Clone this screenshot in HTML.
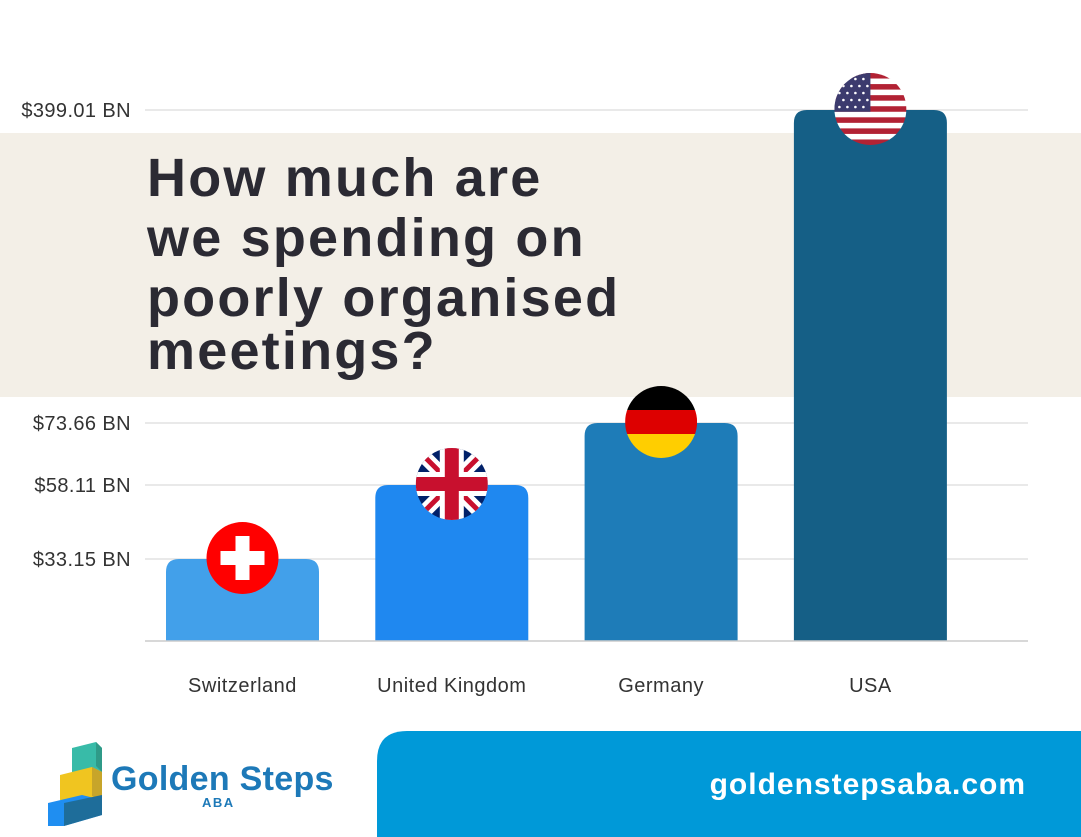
<!DOCTYPE html>
<html><head><meta charset="utf-8"><style>
body{margin:0;background:#fff}
svg{display:block}
text{font-family:"Liberation Sans",sans-serif}
</style></head><body>
<svg id="chart" width="1081" height="837" viewBox="0 0 1081 837">
<defs>
<clipPath id="c0"><circle cx="0" cy="0" r="36"/></clipPath>
</defs>
<rect x="0" y="133" width="1081" height="264" fill="#f3efe7"/>
<g id="grid"></g>
<g id="bars"></g>
<g id="flags"></g>
<g font-weight="bold" font-size="54" fill="#2b2a33" letter-spacing="2.2">
<text x="147" y="196">How much are</text>
<text x="147" y="256">we spending on</text>
<text x="147" y="316">poorly organised</text>
<text x="147" y="369">meetings?</text>
</g>
<line x1="145" y1="641" x2="1028" y2="641" stroke="#ccc" stroke-width="1.5"/>
<g id="xlabels"></g>
<g>
<polygon points="72,748 96,742 102,748 102,772 72,772" fill="#38bba8"/>
<polygon points="96,742 102,748 102,772 96,766" fill="#2f9a88"/>
<polygon points="60,775 92,767 102,772 102,800 60,800" fill="#f0c520"/>
<polygon points="92,767 102,772 102,800 92,796" fill="#c7a52a"/>
<polygon points="48,803 82,795 102,800 102,815 64,826 48,826" fill="#1f8ef1"/>
<polygon points="64,803 102,795 102,815 64,826" fill="#1e6d9a"/>
<text x="111" y="790" font-size="34" font-weight="bold" fill="#1d79b8" letter-spacing="0.3">Golden Steps</text>
<text x="202" y="807" font-size="13" font-weight="bold" fill="#1d79b8" letter-spacing="1.5">ABA</text>
</g>
<path d="M377,837 V761 Q377,731 407,731 H1081 V837 Z" fill="#0099d8"/>
<text x="1026" y="794" text-anchor="end" font-size="30" font-weight="bold" fill="#fff" letter-spacing="1">goldenstepsaba.com</text>
</svg>
<script>
const categories = ["Switzerland","United Kingdom","Germany","USA"];
const values = [33.15,58.11,73.66,399.01];
const tickValues = [33.15,58.11,73.66,399.01];
const tickLabels = ["$33.15 BN","$58.11 BN","$73.66 BN","$399.01 BN"];
const colors = ["#42a0ea","#1f88f0","#1e7cb8","#155f86"];

const NS="http://www.w3.org/2000/svg";
const dom=[0,33.15,58.11,73.66,399.01], rng=[641,559,485,423,110];
function y(v){
  for(let i=1;i<dom.length;i++){ if(v<=dom[i]||i===dom.length-1){const t=(v-dom[i-1])/(dom[i]-dom[i-1]);return rng[i-1]+t*(rng[i]-rng[i-1]);} }
}
function x(i){return 166+i*209.3;}
const bw=153;
function mk(tag,attrs,parent){const e=document.createElementNS(NS,tag);for(const k in attrs)e.setAttribute(k,attrs[k]);parent.appendChild(e);return e;}
const grid=document.getElementById('grid');
tickValues.forEach((v,i)=>{
  const l=mk('line',{x1:145,x2:1028,y1:y(v),y2:y(v),stroke:'#dcdcdc','stroke-width':1.2},grid);
  
  
  const t=mk('text',{x:131,y:y(v)+7,'text-anchor':'end','font-size':20,fill:'#333','letter-spacing':0.4},grid);
  t.textContent=tickLabels[i];
  
  
});
const bars=document.getElementById('bars'), flags=document.getElementById('flags'), xl=document.getElementById('xlabels');
function flag(i,cx,cy){
  const g=mk('g',{transform:`translate(${cx},${cy})`},flags);
  
  
  const c=mk('g',{'clip-path':'url(#c0)'},g);
  if(i===0){mk('rect',{x:-36,y:-36,width:72,height:72,fill:'#ff0000'},c);mk('rect',{x:-7,y:-22,width:14,height:44,fill:'#fff'},c);mk('rect',{x:-22,y:-7,width:44,height:14,fill:'#fff'},c);}
  if(i===1){mk('rect',{x:-36,y:-36,width:72,height:72,fill:'#012169'},c);
    mk('path',{d:'M-36,-36L36,36M36,-36L-36,36',stroke:'#fff','stroke-width':14},c);
    mk('path',{d:'M-36,-36L36,36M36,-36L-36,36',stroke:'#c8102e','stroke-width':5},c);
    mk('rect',{x:-12,y:-36,width:24,height:72,fill:'#fff'},c);mk('rect',{x:-36,y:-12,width:72,height:24,fill:'#fff'},c);
    mk('rect',{x:-7,y:-36,width:14,height:72,fill:'#c8102e'},c);mk('rect',{x:-36,y:-7,width:72,height:14,fill:'#c8102e'},c);}
  if(i===2){mk('rect',{x:-36,y:-36,width:72,height:24,fill:'#000'},c);mk('rect',{x:-36,y:-12,width:72,height:24,fill:'#dd0000'},c);mk('rect',{x:-36,y:12,width:72,height:24,fill:'#ffce00'},c);}
  if(i===3){for(let s=0;s<13;s++)mk('rect',{x:-36,y:-36+s*72/13,width:72,height:72/13+0.3,fill:s%2?'#fff':'#b22234'},c);
    mk('rect',{x:-36,y:-36,width:36,height:72*7/13,fill:'#3c3b6e'},c);
    for(let r=0;r<5;r++)for(let k=0;k<4;k++)mk('circle',{cx:-31+k*8+(r%2)*4,cy:-30+r*7,r:1.3,fill:'#fff'},c);}
}
values.forEach((v,i)=>{
  const x0=x(i), yt=y(v), r=13;
  const p=mk('path',{d:`M${x0},641V${yt+r}Q${x0},${yt} ${x0+r},${yt}H${x0+bw-r}Q${x0+bw},${yt} ${x0+bw},${yt+r}V641Z`,fill:colors[i]},bars);
  
  
  flag(i,x0+bw/2,yt-1);
  const t=mk('text',{x:x0+bw/2,y:692,'text-anchor':'middle','font-size':20,fill:'#333','letter-spacing':0.5},xl);
  t.textContent=categories[i];
  
  
});
</script>
</body></html>
